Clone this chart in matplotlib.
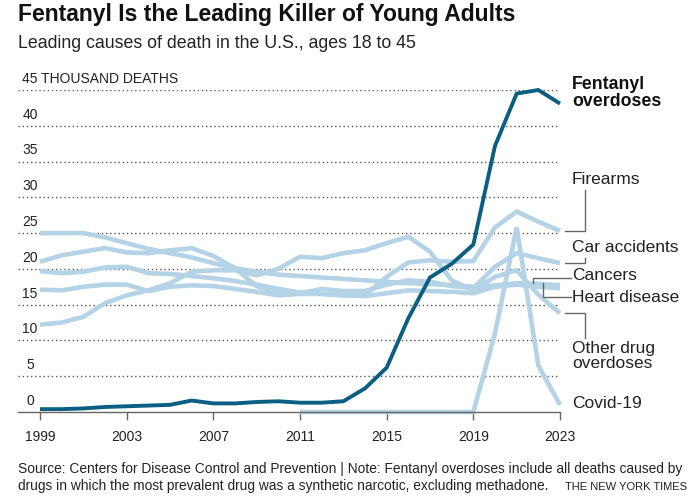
import matplotlib
matplotlib.use("Agg")
import matplotlib.pyplot as plt
import matplotlib.transforms as mtransforms

plt.rcParams['font.family'] = ['Liberation Sans', 'DejaVu Sans']

# ---------------- data ----------------
years = list(range(1999, 2024))
fentanyl = [0.4, 0.4, 0.5, 0.7, 0.8, 0.9, 1.0, 1.6, 1.2, 1.2, 1.4, 1.5, 1.3,
            1.3, 1.5, 3.3, 6.2, 13.1, 18.8, 20.7, 23.4, 37.2, 44.5, 45.0, 43.1]
firearms = [17.1, 17.0, 17.5, 17.8, 17.8, 16.9, 17.5, 17.7, 17.6, 17.2, 16.8, 16.3, 16.5,
            16.5, 16.3, 16.3, 18.9, 20.9, 21.2, 21.0, 21.1, 25.8, 28.0, 26.6, 25.3]
car_accidents = [21.0, 21.9, 22.4, 22.9, 22.3, 22.2, 22.6, 22.9, 21.8, 20.1, 17.6, 16.6, 16.6,
                 17.2, 16.9, 16.9, 17.8, 18.4, 18.2, 17.6, 17.3, 20.3, 22.2, 21.5, 20.8]
cancers = [25.0, 25.0, 25.0, 24.4, 23.6, 22.8, 22.2, 21.6, 20.8, 20.1, 19.6, 19.2, 19.0,
           18.8, 18.6, 18.4, 18.2, 18.0, 17.9, 17.7, 17.5, 17.7, 18.0, 17.9, 17.7]
heart_disease = [19.7, 19.4, 19.6, 20.2, 20.3, 19.4, 19.3, 19.0, 18.7, 18.3, 17.8, 17.2, 16.7,
                 16.5, 16.3, 16.2, 16.6, 17.0, 16.9, 16.8, 16.6, 17.5, 17.8, 17.5, 17.3]
other_drug = [12.2, 12.5, 13.3, 15.2, 16.3, 17.0, 18.0, 19.6, 19.8, 19.8, 19.1, 20.0, 21.7,
              21.5, 22.2, 22.6, 23.6, 24.5, 22.4, 18.4, 17.0, 18.9, 19.8, 16.4, 13.8]
covid_years = list(range(2011, 2024))
covid = [0, 0, 0, 0, 0, 0, 0, 0, 0, 11.0, 25.8, 6.5, 1.0]

yticks = [0, 5, 10, 15, 20, 25, 30, 35, 40, 45]
xticks = [1999, 2003, 2007, 2011, 2015, 2019, 2023]

# ---------------- style ----------------
W, H = 692, 500
DARK = '#0b5f83'
LIGHT = '#b4d3e6'
GRID = '#555555'
LEADER = '#666666'

fig = plt.figure(figsize=(W / 100, H / 100), dpi=100)
ax_left, ax_right, ax_top, ax_bottom = 18, 560, 90, 412
ax = fig.add_axes([ax_left / W, 1 - ax_bottom / H,
                   (ax_right - ax_left) / W, (ax_bottom - ax_top) / H])
px_per_year = (560 - 40) / 24
ax.set_xlim(1999 - (40 - ax_left) / px_per_year, 2023)
ax.set_ylim(0, 45)

for v in yticks[1:]:
    ax.axhline(v, color=GRID, lw=1.0, ls=(0, (1, 2)), zorder=1)

light_series = [cancers, heart_disease, car_accidents, firearms, other_drug]
for s in light_series:
    ax.plot(years, s, color=LIGHT, lw=3.3, solid_capstyle='butt',
            solid_joinstyle='miter', zorder=2, clip_on=False)
ax.plot(covid_years, covid, color=LIGHT, lw=3.3, solid_capstyle='butt',
        solid_joinstyle='miter', zorder=3, clip_on=False)
ax.plot(years, fentanyl, color=DARK, lw=2.8, solid_capstyle='butt',
        solid_joinstyle='miter', zorder=5, clip_on=False)

for s in ['top', 'right', 'left']:
    ax.spines[s].set_visible(False)
ax.spines['bottom'].set_color(LEADER)
ax.spines['bottom'].set_linewidth(1.0)
ax.spines['bottom'].set_zorder(3.5)
ax.set_yticks([])
ax.set_xticks(xticks)
ax.set_xticklabels([str(x) for x in xticks], fontsize=10, color='#222222')
ax.tick_params(axis='x', direction='out', length=6, width=1, color=LEADER, pad=7)

# y labels above gridlines
trans = mtransforms.blended_transform_factory(ax.transAxes, ax.transData)
for v in yticks:
    if v == 45:
        ax.annotate('45 THOUSAND DEATHS', xy=((22 - ax_left) / (ax_right - ax_left), v),
                    xycoords=trans, xytext=(0, 3), textcoords='offset points',
                    ha='left', va='bottom', fontsize=10, color='#222222')
    else:
        ax.annotate(str(v), xy=((30 - ax_left) / (ax_right - ax_left), v),
                    xycoords=trans, xytext=(0, 3), textcoords='offset points',
                    ha='center', va='bottom', fontsize=10, color='#222222')


def ftext(x, y, s, **kw):
    fig.text(x / W, 1 - y / H, s, **kw)


def fline(xs, ys):
    fig.add_artist(plt.Line2D([x / W for x in xs], [1 - y / H for y in ys],
                              color=LEADER, lw=1.0, transform=fig.transFigure))


def ypx(v):
    return ax_bottom - v * (ax_bottom - ax_top) / 45


ftext(18, 15, 'Fentanyl Is the Leading Killer of Young Adults', fontsize=16.5,
      fontweight='bold', va='center', ha='left', color='#111111')
ftext(18, 43, 'Leading causes of death in the U.S., ages 18 to 45', fontsize=12.8,
      va='center', ha='left', color='#222222')

# right-side labels
LX = 572
ftext(LX, 93, 'Fentanyl\noverdoses', fontsize=12.8, fontweight='bold', va='center',
      ha='left', color='#111111', linespacing=1.0)
ftext(LX, 180, 'Firearms', fontsize=12.5, va='center', ha='left', color='#222222')
ftext(LX, 247, 'Car accidents', fontsize=12.5, va='center', ha='left', color='#222222')
ftext(LX, 276, 'Cancers', fontsize=12.5, va='center', ha='left', color='#222222')
ftext(LX, 297, 'Heart disease', fontsize=12.5, va='center', ha='left', color='#222222')
ftext(LX, 356, 'Other drug\noverdoses', fontsize=12.5, va='center', ha='left',
      color='#222222', linespacing=1.0)
ftext(LX, 403, 'Covid-19', fontsize=12.5, va='center', ha='left', color='#222222')

# leader lines
fline([565, 585, 585], [ypx(firearms[-1]), ypx(firearms[-1]), 190])
fline([565, 585, 585], [ypx(car_accidents[-1]), ypx(car_accidents[-1]), 258])
fline([533, 533, LX - 1], [283, 278, 278])
fline([543, 543, LX - 1], [283, 297, 297])
fline([565, 585, 585], [ypx(other_drug[-1]), ypx(other_drug[-1]), 338])

ftext(18, 469, 'Source: Centers for Disease Control and Prevention | Note: Fentanyl overdoses '
      'include all deaths caused by', fontsize=9.9, va='center', ha='left', color='#222222')
ftext(18, 486, 'drugs in which the most prevalent drug was a synthetic narcotic, excluding '
      'methadone.', fontsize=9.9, va='center', ha='left', color='#222222')
ftext(687, 487, 'THE NEW YORK TIMES', fontsize=8, va='center', ha='right', color='#222222')

fig.savefig('out.png', dpi=100)
